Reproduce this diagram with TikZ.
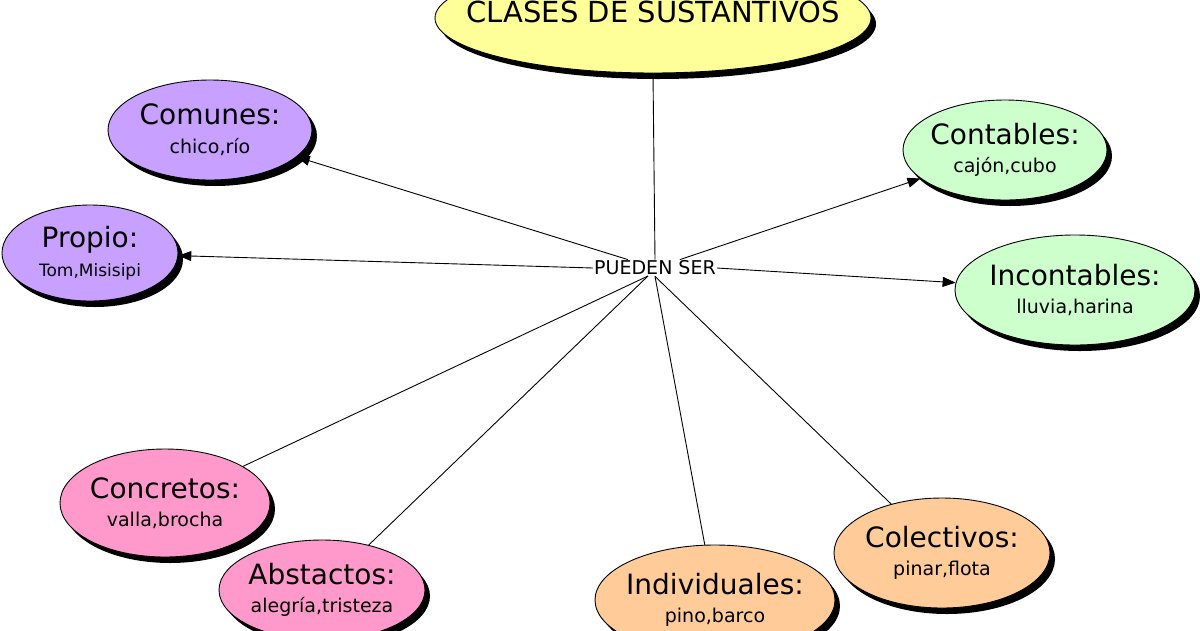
\documentclass[tikz,border=0pt]{standalone}
\usepackage{fontspec}
\setmainfont{DejaVu Sans}
\usetikzlibrary{shapes.geometric,arrows.meta,shadows}
\definecolor{cy}{HTML}{FFFF99}
\definecolor{cp}{HTML}{C8A0FF}
\definecolor{cg}{HTML}{CCFFCC}
\definecolor{ck}{HTML}{FF99CC}
\definecolor{co}{HTML}{FFCC99}
\newcommand{\hdf}{\fontsize{28}{34}\selectfont}
\newcommand{\sbf}{\fontsize{19}{23}\selectfont}
\begin{document}
\begin{tikzpicture}[x=1pt,y=-1pt,
  bub/.style={ellipse,draw=black,line width=0.9pt,inner xsep=-30pt,inner ysep=-10pt,align=center,
    drop shadow={shadow xshift=5pt,shadow yshift=-6pt,fill=black,opacity=1}},
  arr/.style={-{Triangle[length=13pt,width=10pt]},line width=0.9pt},
  ln/.style={line width=0.9pt}]
\useasboundingbox[fill=white] (0,0) rectangle (1200,630);
\node[bub,fill=cy,minimum width=436pt,minimum height=110pt] (t) at (653,18) {};
\node[font=\fontsize{29}{32}\selectfont] at (653,12) {CLASES DE SUSTANTIVOS};
\node[bub,fill=cp,minimum width=204pt,minimum height=100pt] (com) at (210,130)
  {{\hdf Comunes:}\\[12pt]{\sbf chico,río}};
\node[bub,fill=cp,minimum width=176pt,minimum height=96pt] (pro) at (90,253)
  {{\hdf Propio:}\\[10pt]{\fontsize{17}{21}\selectfont Tom,Misisipi}};
\node[bub,fill=cg,minimum width=204pt,minimum height=100pt] (con) at (1005,150)
  {{\hdf Contables:}\\[12pt]{\sbf cajón,cubo}};
\node[bub,fill=cg,minimum width=240pt,minimum height=110pt] (inc) at (1075,290)
  {{\hdf Incontables:}\\[12pt]{\sbf lluvia,harina}};
\node[bub,fill=ck,minimum width=210pt,minimum height=108pt] (cnc) at (165,503)
  {{\hdf Concretos:}\\[12pt]{\sbf valla,brocha}};
\node[bub,fill=ck,minimum width=206pt,minimum height=100pt] (abs) at (322,590)
  {{\hdf Abstactos:}\\[12pt]{\sbf alegría,tristeza}};
\node[bub,fill=co,minimum width=240pt,minimum height=110pt] (ind) at (715,600)
  {{\hdf Individuales:}\\[12pt]{\sbf pino,barco}};
\node[bub,fill=co,minimum width=216pt,minimum height=110pt] (col) at (942,553)
  {{\hdf Colectivos:}\\[12pt]{\sbf pinar,flota}};
\node[font=\fontsize{19}{21}\selectfont,inner sep=1pt,fill=white] (p) at (655,268) {PUEDEN SER};
\coordinate (c) at (648,276);
\draw[ln] (t.south) -- (p.north);
\draw[arr] (p) -- (com);
\draw[arr] (p.west) -- (pro);
\draw[arr] (p) -- (con);
\draw[arr] (p.east) -- (inc);
\draw[ln] (c) -- (cnc);
\draw[ln] (c) -- (abs);
\draw[ln] (p.south) -- (ind);
\draw[ln] (p.south) -- (col);
\end{tikzpicture}
\end{document}
